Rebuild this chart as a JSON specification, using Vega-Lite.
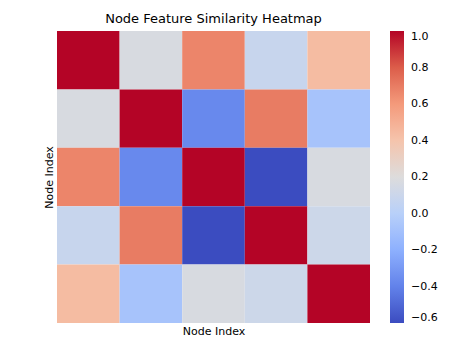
{
  "$schema": "https://vega.github.io/schema/vega-lite/v6.json",
  "autosize": {"type": "none"},
  "padding": {"left": 57, "top": 31, "right": 104, "bottom": 30},
  "width": 313,
  "height": 292,
  "background": "white",
  "title": {"text": "Node Feature Similarity Heatmap", "font": "DejaVu Sans", "fontSize": 13, "fontWeight": "normal", "color": "black", "offset": 5, "anchor": "middle"},
  "data": {"values": [
    {"row": 0, "col": 0, "v": 1.0}, {"row": 0, "col": 1, "v": 0.17}, {"row": 0, "col": 2, "v": 0.67}, {"row": 0, "col": 3, "v": 0.08}, {"row": 0, "col": 4, "v": 0.44},
    {"row": 1, "col": 0, "v": 0.17}, {"row": 1, "col": 1, "v": 1.0}, {"row": 1, "col": 2, "v": -0.37}, {"row": 1, "col": 3, "v": 0.7}, {"row": 1, "col": 4, "v": -0.08},
    {"row": 2, "col": 0, "v": 0.67}, {"row": 2, "col": 1, "v": -0.37}, {"row": 2, "col": 2, "v": 1.0}, {"row": 2, "col": 3, "v": -0.6}, {"row": 2, "col": 4, "v": 0.17},
    {"row": 3, "col": 0, "v": 0.08}, {"row": 3, "col": 1, "v": 0.7}, {"row": 3, "col": 2, "v": -0.6}, {"row": 3, "col": 3, "v": 1.0}, {"row": 3, "col": 4, "v": 0.11},
    {"row": 4, "col": 0, "v": 0.44}, {"row": 4, "col": 1, "v": -0.08}, {"row": 4, "col": 2, "v": 0.17}, {"row": 4, "col": 3, "v": 0.11}, {"row": 4, "col": 4, "v": 1.0}
  ]},
  "mark": {"type": "rect", "strokeWidth": 0},
  "encoding": {
    "x": {"field": "col", "type": "ordinal", "scale": {"paddingInner": 0, "paddingOuter": 0},
      "axis": {"title": "Node Index", "labels": false, "ticks": false, "domain": false, "titleFont": "DejaVu Sans", "titleFontSize": 11, "titleFontWeight": "normal", "titleColor": "black", "titlePadding": 2}},
    "y": {"field": "row", "type": "ordinal", "scale": {"paddingInner": 0, "paddingOuter": 0},
      "axis": {"title": "Node Index", "labels": false, "ticks": false, "domain": false, "titleFont": "DejaVu Sans", "titleFontSize": 11, "titleFontWeight": "normal", "titleColor": "black", "titlePadding": 3}},
    "color": {"field": "v", "type": "quantitative",
      "scale": {"domain": [-0.6, -0.4, -0.2, 0.0, 0.2, 0.4, 0.6, 0.8, 1.0],
        "range": ["#3b4cc0", "#6282ea", "#8db0fe", "#b8d0f9", "#dddcdc", "#f5c4ac", "#f49a7b", "#dc5d4a", "#b40426"],
        "interpolate": "rgb"},
      "legend": {"title": null, "orient": "none", "legendX": 333, "legendY": 0, "direction": "vertical",
        "gradientLength": 292, "gradientThickness": 14, "gradientStrokeWidth": 0,
        "values": [-0.6, -0.4, -0.2, 0.0, 0.2, 0.4, 0.6, 0.8, 1.0], "format": ".1f",
        "labelFont": "DejaVu Sans", "labelFontSize": 11, "labelColor": "black", "labelOffset": 7, "labelOverlap": false}}
  },
  "config": {"view": {"stroke": null}, "axis": {"grid": false}}
}
